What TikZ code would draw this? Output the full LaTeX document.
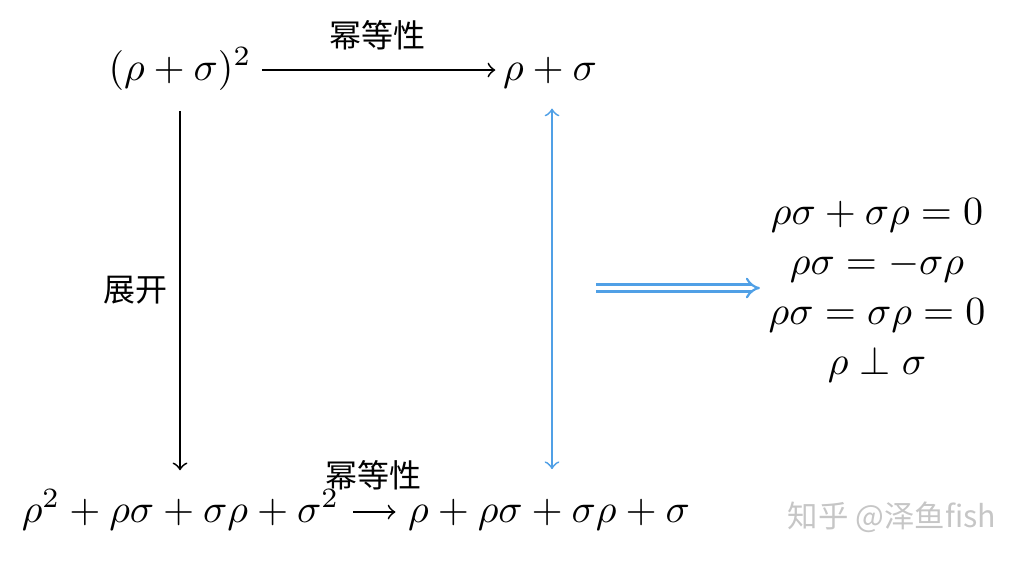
\documentclass[tikz,border=0pt]{standalone}
\usepackage{fontspec}
\newfontfamily\cjk{Noto Sans CJK SC}
\usetikzlibrary{arrows.meta}
\definecolor{lblue}{RGB}{80,160,230}
\begin{document}
\begin{tikzpicture}[x=0.25pt,y=-0.25pt,
  mathnode/.style={inner sep=0pt, anchor=base},
  lbl/.style={font=\cjk\fontsize{8}{9.6}\selectfont, inner sep=0pt},
  arr/.style={-to, line width=0.45pt}]
\useasboundingbox (0,0) rectangle (1025,561);
\node[mathnode] (a) at (180,80) {$(\rho+\sigma)^2$};
\node[mathnode] (b) at (550,80) {$\rho+\sigma$};
\node[mathnode] (c) at (180.5,522) {$\rho^2+\rho\sigma+\sigma\rho+\sigma^2$};
\node[mathnode] (d) at (549,522) {$\rho+\rho\sigma+\sigma\rho+\sigma$};
\node[inner sep=0pt, align=center, font=\fontsize{10}{12.5}\selectfont] (e) at (877,290)
  {$\rho\sigma+\sigma\rho=0$\\ $\rho\sigma=-\sigma\rho$\\ $\rho\sigma=\sigma\rho=0$\\ $\rho\perp\sigma$};
\coordinate (m) at (596,288);
\draw[arr, shorten <=2.4pt, shorten >=1.75pt] ([yshift=2.5pt]a.base east) -- node[lbl, yshift=8.75pt]{幂等性} ([yshift=2.5pt]b.base west);
\draw[arr, shorten <=3.25pt, shorten >=3pt] ([yshift=2.5pt]c.base east) -- node[lbl, yshift=9.25pt]{幂等性} ([yshift=2.5pt]d.base west);
\draw[arr, shorten <=5pt, shorten >=4.6pt] (a.south) -- node[lbl, left=3pt]{展开} (a.south |- c.north);
\draw[lblue, line width=0.45pt, to-to, shorten <=5pt, shorten >=7.2pt] ([xshift=0.5pt]b.south) -- ([xshift=0.5pt]b.south |- d.north);
\draw[lblue, line width=0.55pt, double, double distance=1.2pt, -Implies, shorten >=2pt] (m) -- (m -| e.west);
\node[font=\cjk\fontsize{7.6}{9}\selectfont, text=gray!45, inner sep=0pt] (w) at (892,517) {知乎 @泽鱼fish};
\end{tikzpicture}
\end{document}
